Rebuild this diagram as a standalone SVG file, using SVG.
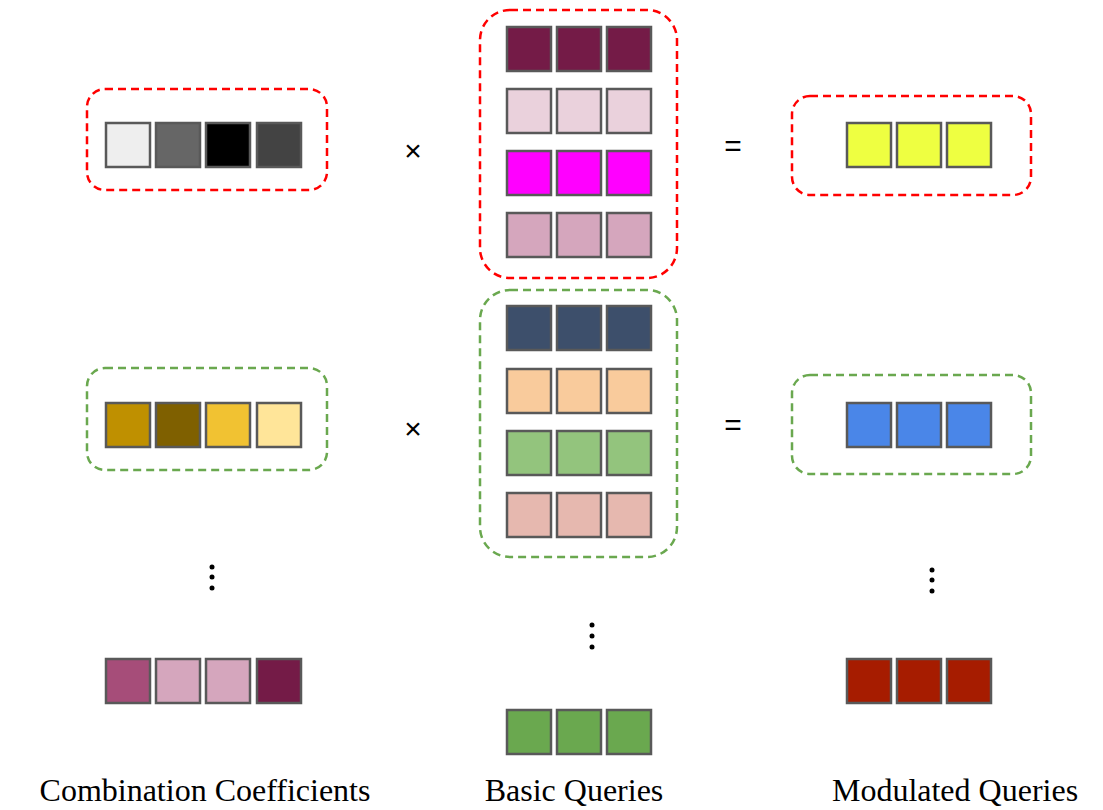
<svg xmlns="http://www.w3.org/2000/svg" width="1103" height="810" viewBox="0 0 1103 810">
<style>
.s{stroke:#595959;stroke-width:2.5}
.r{fill:none;stroke:#ff0000;stroke-width:2.5;stroke-dasharray:8,5}
.g{fill:none;stroke:#6aa84f;stroke-width:2.5;stroke-dasharray:8,5}
.t{font-family:"Liberation Serif",serif;font-size:32px;fill:#000}
.o{font-family:"Liberation Sans",sans-serif;font-size:30px;fill:#000}
</style>
<rect width="1103" height="810" fill="#fff"/>
<g id="groups">
<rect class="r" x="87" y="89" width="240" height="101" rx="18"/>
<rect class="r" x="480" y="10" width="197" height="268" rx="30"/>
<rect class="r" x="792" y="96" width="239" height="99" rx="18"/>
<rect class="g" x="87" y="368" width="240" height="102" rx="18"/>
<rect class="g" x="480" y="290" width="197" height="267" rx="30"/>
<rect class="g" x="792" y="375" width="239" height="99" rx="18"/>
</g>
<g id="coef1">
<rect class="s" x="106" y="123" width="44" height="44" fill="#eeeeee"/>
<rect class="s" x="156" y="123" width="44" height="44" fill="#666666"/>
<rect class="s" x="206" y="123" width="44" height="44" fill="#000000"/>
<rect class="s" x="257" y="123" width="44" height="44" fill="#434343"/>
</g>
<g id="basic1">
<rect class="s" x="507" y="27" width="44" height="44" fill="#741b47"/><rect class="s" x="557" y="27" width="44" height="44" fill="#741b47"/><rect class="s" x="607" y="27" width="44" height="44" fill="#741b47"/>
<rect class="s" x="507" y="89" width="44" height="44" fill="#ead1dc"/><rect class="s" x="557" y="89" width="44" height="44" fill="#ead1dc"/><rect class="s" x="607" y="89" width="44" height="44" fill="#ead1dc"/>
<rect class="s" x="507" y="151" width="44" height="44" fill="#ff00ff"/><rect class="s" x="557" y="151" width="44" height="44" fill="#ff00ff"/><rect class="s" x="607" y="151" width="44" height="44" fill="#ff00ff"/>
<rect class="s" x="507" y="213" width="44" height="44" fill="#d5a6bd"/><rect class="s" x="557" y="213" width="44" height="44" fill="#d5a6bd"/><rect class="s" x="607" y="213" width="44" height="44" fill="#d5a6bd"/>
</g>
<g id="mod1">
<rect class="s" x="847" y="123" width="44" height="44" fill="#eeff41"/><rect class="s" x="897" y="123" width="44" height="44" fill="#eeff41"/><rect class="s" x="947" y="123" width="44" height="44" fill="#eeff41"/>
</g>
<g id="coef2">
<rect class="s" x="106" y="403" width="44" height="44" fill="#bf9000"/>
<rect class="s" x="156" y="403" width="44" height="44" fill="#7f6000"/>
<rect class="s" x="206" y="403" width="44" height="44" fill="#f1c232"/>
<rect class="s" x="257" y="403" width="44" height="44" fill="#ffe599"/>
</g>
<g id="basic2">
<rect class="s" x="507" y="306" width="44" height="44" fill="#3d4f6b"/><rect class="s" x="557" y="306" width="44" height="44" fill="#3d4f6b"/><rect class="s" x="607" y="306" width="44" height="44" fill="#3d4f6b"/>
<rect class="s" x="507" y="369" width="44" height="44" fill="#f9cb9c"/><rect class="s" x="557" y="369" width="44" height="44" fill="#f9cb9c"/><rect class="s" x="607" y="369" width="44" height="44" fill="#f9cb9c"/>
<rect class="s" x="507" y="431" width="44" height="44" fill="#93c47d"/><rect class="s" x="557" y="431" width="44" height="44" fill="#93c47d"/><rect class="s" x="607" y="431" width="44" height="44" fill="#93c47d"/>
<rect class="s" x="507" y="493" width="44" height="44" fill="#e6b8af"/><rect class="s" x="557" y="493" width="44" height="44" fill="#e6b8af"/><rect class="s" x="607" y="493" width="44" height="44" fill="#e6b8af"/>
</g>
<g id="mod2">
<rect class="s" x="847" y="403" width="44" height="44" fill="#4a86e8"/><rect class="s" x="897" y="403" width="44" height="44" fill="#4a86e8"/><rect class="s" x="947" y="403" width="44" height="44" fill="#4a86e8"/>
</g>
<g id="coef3">
<rect class="s" x="106" y="659" width="44" height="44" fill="#a64d79"/>
<rect class="s" x="156" y="659" width="44" height="44" fill="#d5a6bd"/>
<rect class="s" x="206" y="659" width="44" height="44" fill="#d5a6bd"/>
<rect class="s" x="257" y="659" width="44" height="44" fill="#741b47"/>
</g>
<g id="basic3">
<rect class="s" x="507" y="710" width="44" height="44" fill="#6aa84f"/><rect class="s" x="557" y="710" width="44" height="44" fill="#6aa84f"/><rect class="s" x="607" y="710" width="44" height="44" fill="#6aa84f"/>
</g>
<g id="mod3">
<rect class="s" x="847" y="659" width="44" height="44" fill="#a61c00"/><rect class="s" x="897" y="659" width="44" height="44" fill="#a61c00"/><rect class="s" x="947" y="659" width="44" height="44" fill="#a61c00"/>
</g>
<g id="ops" class="o" text-anchor="middle">
<text class="o" x="413" y="161">×</text>
<text class="o" x="413" y="439">×</text>
<text class="o" x="733" y="156" font-size="26">=</text>
<text class="o" x="733" y="435" font-size="26">=</text>
</g>
<g id="dots" fill="#000">
<circle cx="212" cy="567" r="2.5"/><circle cx="212" cy="577" r="2.5"/><circle cx="212" cy="588" r="2.5"/>
<circle cx="592" cy="625" r="2.5"/><circle cx="592" cy="636" r="2.5"/><circle cx="592" cy="647" r="2.5"/>
<circle cx="932" cy="570" r="2.5"/><circle cx="932" cy="580" r="2.5"/><circle cx="932" cy="591" r="2.5"/>
</g>
<g id="labels" text-anchor="middle">
<text class="t" x="205" y="801">Combination Coefficients</text>
<text class="t" x="574" y="801">Basic Queries</text>
<text class="t" x="955" y="801">Modulated Queries</text>
</g>
</svg>
